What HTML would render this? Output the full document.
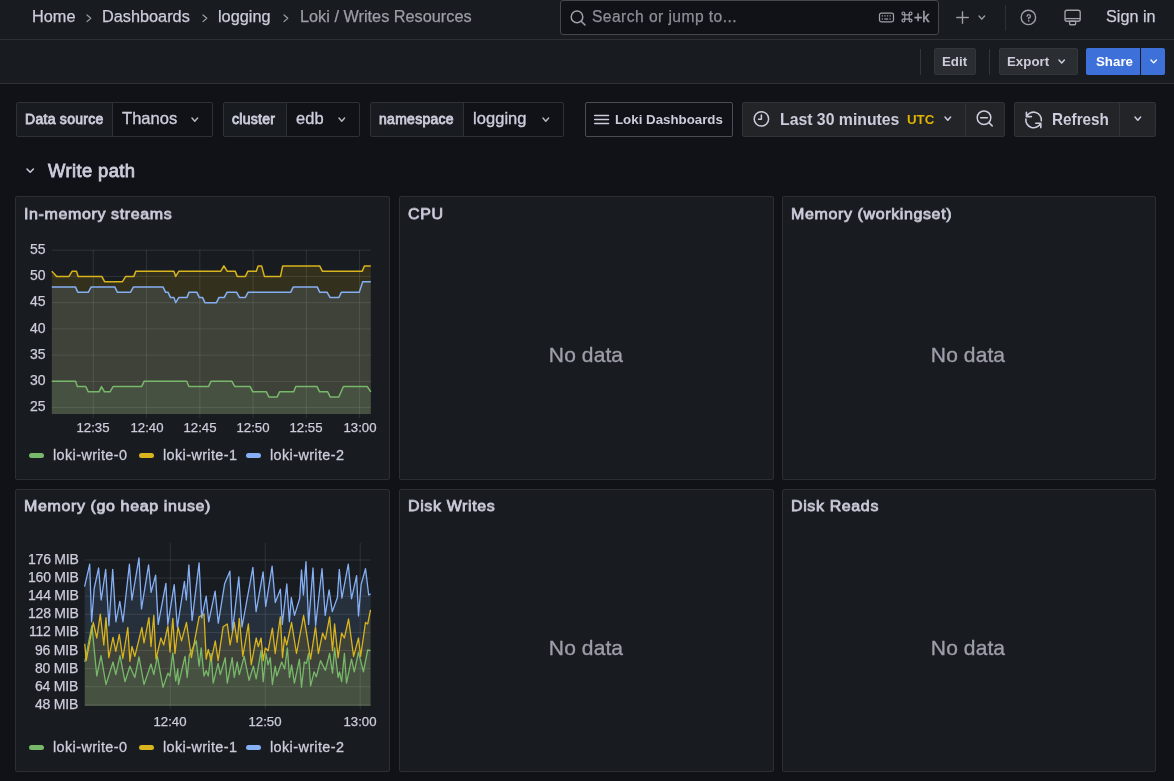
<!DOCTYPE html>
<html><head><meta charset="utf-8"><title>Loki / Writes Resources</title>
<style>
html,body{margin:0;padding:0;width:1174px;height:781px;overflow:hidden;background:#111217;}
body{position:relative;font-family:"Liberation Sans",sans-serif;}
.t{position:absolute;white-space:nowrap;line-height:1;will-change:transform;}
.r{position:absolute;box-sizing:border-box;}
.s{position:absolute;overflow:visible;}
</style></head><body>
<div class="r" style="left:0.00px;top:0.00px;width:1174.00px;height:39.00px;background:#181b1f;"></div><div class="r" style="left:0.00px;top:39.00px;width:1174.00px;height:1.00px;background:#2e3035;"></div><div class="t" style="top:8.10px;font-size:16.3px;font-weight:400;color:#ccccdc;-webkit-text-stroke:0.25px #ccccdc;left:32.40px;">Home</div><svg class="s" style="left:84.55px;top:12.5px;" width="7.8" height="10.6" viewBox="0 0 7.8 10.6"><polyline points="2,2 5.8,5.3 2,8.6" fill="none" stroke="#9d9da8" stroke-width="1.2" stroke-linecap="round" stroke-linejoin="round"/></svg><div class="t" style="top:8.10px;font-size:16.3px;font-weight:400;color:#ccccdc;-webkit-text-stroke:0.25px #ccccdc;left:102.40px;">Dashboards</div><svg class="s" style="left:200.65px;top:12.5px;" width="7.8" height="10.6" viewBox="0 0 7.8 10.6"><polyline points="2,2 5.8,5.3 2,8.6" fill="none" stroke="#9d9da8" stroke-width="1.2" stroke-linecap="round" stroke-linejoin="round"/></svg><div class="t" style="top:8.10px;font-size:16.3px;font-weight:400;color:#ccccdc;-webkit-text-stroke:0.25px #ccccdc;left:218.00px;">logging</div><svg class="s" style="left:282.4px;top:12.5px;" width="7.8" height="10.6" viewBox="0 0 7.8 10.6"><polyline points="2,2 5.8,5.3 2,8.6" fill="none" stroke="#9d9da8" stroke-width="1.2" stroke-linecap="round" stroke-linejoin="round"/></svg><div class="t" style="top:8.10px;font-size:16.3px;font-weight:400;color:#9d9da8;-webkit-text-stroke:0.25px #9d9da8;left:300.00px;">Loki / Writes Resources</div><div class="r" style="left:560.00px;top:0.00px;width:379.00px;height:35.00px;background:#111217;border:1px solid #45474e;border-radius:3px;box-sizing:border-box;"></div><svg class="s" style="left:568.5px;top:8.6px;" width="18" height="18" viewBox="0 0 18 18"><circle cx="8" cy="7.9" r="5.8" fill="none" stroke="#a0a0ab" stroke-width="1.5"/><line x1="12.2" y1="12.2" x2="16" y2="16" stroke="#a0a0ab" stroke-width="1.5" stroke-linecap="round"/></svg><div class="t" style="top:8.99px;font-size:15.6px;font-weight:400;color:#8e8e99;-webkit-text-stroke:0.25px #8e8e99;letter-spacing:0.45px;left:592.20px;">Search or jump to...</div><svg class="s" style="left:877px;top:10px;" width="20" height="15" viewBox="0 0 20 15"><rect x="2.5" y="3.2" width="14" height="8.7" rx="1.8" fill="none" stroke="#a0a0ab" stroke-width="1.25"/><g fill="#a0a0ab"><rect x="4.7" y="5.3" width="1.3" height="1.2"/><rect x="7.3" y="5.3" width="1.3" height="1.2"/><rect x="9.9" y="5.3" width="1.3" height="1.2"/><rect x="12.5" y="5.3" width="1.3" height="1.2"/><rect x="4.7" y="8.4" width="1.3" height="1.2"/><rect x="7.3" y="8.4" width="3.9" height="1.2"/><rect x="12.5" y="8.4" width="1.3" height="1.2"/></g></svg><svg class="s" style="left:900px;top:10px;" width="14" height="14" viewBox="0 0 14 14"><path d="M4.8 4.8 H9.2 V9.2 H4.8 Z M4.8 4.8 V3.4 A1.4 1.4 0 1 0 3.4 4.8 H4.8 M9.2 4.8 V3.4 A1.4 1.4 0 1 1 10.6 4.8 H9.2 M4.8 9.2 V10.6 A1.4 1.4 0 1 1 3.4 9.2 H4.8 M9.2 9.2 V10.6 A1.4 1.4 0 1 0 10.6 9.2 H9.2" fill="none" stroke="#a0a0ab" stroke-width="1.2"/></svg><div class="t" style="top:10.18px;font-size:14.2px;font-weight:400;color:#a0a0ab;-webkit-text-stroke:0.45px #a0a0ab;left:913.60px;">+k</div><svg class="s" style="left:954px;top:9px;" width="17" height="17" viewBox="0 0 17 17"><line x1="8.5" y1="2.3" x2="8.5" y2="14.8" stroke="#a0a0ab" stroke-width="1.4"/><line x1="2.2" y1="8.5" x2="14.8" y2="8.5" stroke="#a0a0ab" stroke-width="1.4"/></svg><svg class="s" style="left:976.7px;top:13.9px;" width="9.6" height="7.2" viewBox="0 0 9.6 7.2"><polyline points="2,2 4.8,5.2 7.6,2" fill="none" stroke="#a0a0ab" stroke-width="1.3" stroke-linecap="round" stroke-linejoin="round"/></svg><div class="r" style="left:1005.00px;top:4.50px;width:1.00px;height:26.00px;background:#2e3036;"></div><svg class="s" style="left:1019px;top:8px;" width="19" height="19" viewBox="0 0 19 19"><circle cx="9.4" cy="9.4" r="7.2" fill="none" stroke="#a0a0ab" stroke-width="1.4"/><path d="M8.1 8.2 A1.65 1.65 0 1 1 9.7 9.9 V10.8" fill="none" stroke="#a0a0ab" stroke-width="1.35" stroke-linecap="round"/><circle cx="9.7" cy="12.9" r="0.8" fill="#a0a0ab"/></svg><svg class="s" style="left:1062px;top:8px;" width="21" height="19" viewBox="0 0 21 19"><rect x="3" y="2.2" width="15.2" height="11" rx="2" fill="none" stroke="#a0a0ab" stroke-width="1.35"/><line x1="3" y1="10.6" x2="18.2" y2="10.6" stroke="#a0a0ab" stroke-width="1.3"/><rect x="7.6" y="13.2" width="6" height="3.5" rx="0.8" fill="none" stroke="#a0a0ab" stroke-width="1.35"/></svg><div class="t" style="top:7.89px;font-size:16.2px;font-weight:400;color:#ccccdc;-webkit-text-stroke:0.25px #ccccdc;left:1106.30px;">Sign in</div><div class="r" style="left:0.00px;top:40.00px;width:1174.00px;height:43.00px;background:#181b1f;"></div><div class="r" style="left:0.00px;top:83.00px;width:1174.00px;height:1.00px;background:#2e3035;"></div><div class="r" style="left:920.00px;top:48.50px;width:1.00px;height:26.50px;background:#34363c;"></div><div class="r" style="left:934.30px;top:48.00px;width:41.50px;height:27.00px;background:#2a2d32;border:1px solid #33363b;border-radius:2px;box-sizing:border-box;"></div><div class="t" style="top:54.74px;font-size:13.3px;font-weight:700;color:#ccccdc;left:941.90px;">Edit</div><div class="r" style="left:989.00px;top:48.50px;width:1.00px;height:26.50px;background:#34363c;"></div><div class="r" style="left:999.20px;top:48.00px;width:78.60px;height:27.00px;background:#2a2d32;border:1px solid #33363b;border-radius:2px;box-sizing:border-box;"></div><div class="t" style="top:54.74px;font-size:13.3px;font-weight:700;color:#ccccdc;left:1007.00px;">Export</div><svg class="s" style="left:1056.85px;top:57.65px;" width="9.4" height="6.9" viewBox="0 0 9.4 6.9"><polyline points="2,2 4.7,4.9 7.4,2" fill="none" stroke="#ccccdc" stroke-width="1.5" stroke-linecap="round" stroke-linejoin="round"/></svg><div class="r" style="left:1086.00px;top:48.00px;width:78.90px;height:27.00px;background:#3d71d9;border-radius:2px;"></div><div class="r" style="left:1140.20px;top:48.00px;width:1.00px;height:27.00px;background:#181b1f;"></div><div class="t" style="top:54.74px;font-size:13.3px;font-weight:700;color:#ffffff;left:1095.60px;">Share</div><svg class="s" style="left:1148.9px;top:57.65px;" width="9.4" height="6.9" viewBox="0 0 9.4 6.9"><polyline points="2,2 4.7,4.9 7.4,2" fill="none" stroke="#ffffff" stroke-width="1.35" stroke-linecap="round" stroke-linejoin="round"/></svg><div class="r" style="left:0.00px;top:84.00px;width:1174.00px;height:697.00px;background:#111217;"></div><div class="r" style="left:16.00px;top:102.00px;width:197.00px;height:35.00px;background:#111217;border:1px solid #2f3137;border-radius:2px;box-sizing:border-box;"></div><div class="r" style="left:17.00px;top:103.00px;width:95.00px;height:33.00px;background:#181b1f;"></div><div class="r" style="left:112.00px;top:103.00px;width:1.00px;height:33.00px;background:#2f3137;"></div><div class="t" style="top:112.15px;font-size:14px;font-weight:400;color:#ccccdc;-webkit-text-stroke:0.8px #ccccdc;letter-spacing:0.28px;left:25.30px;">Data source</div><div class="t" style="top:109.83px;font-size:16.5px;font-weight:400;color:#ccccdc;-webkit-text-stroke:0.35px #ccccdc;letter-spacing:0.05px;left:122.30px;">Thanos</div><svg class="s" style="left:189.8px;top:115.7px;" width="9.6" height="7.2" viewBox="0 0 9.6 7.2"><polyline points="2,2 4.8,5.2 7.6,2" fill="none" stroke="#b4b5bf" stroke-width="1.5" stroke-linecap="round" stroke-linejoin="round"/></svg><div class="r" style="left:223.00px;top:102.00px;width:136.50px;height:35.00px;background:#111217;border:1px solid #2f3137;border-radius:2px;box-sizing:border-box;"></div><div class="r" style="left:224.00px;top:103.00px;width:62.00px;height:33.00px;background:#181b1f;"></div><div class="r" style="left:286.00px;top:103.00px;width:1.00px;height:33.00px;background:#2f3137;"></div><div class="t" style="top:112.15px;font-size:14px;font-weight:400;color:#ccccdc;-webkit-text-stroke:0.8px #ccccdc;letter-spacing:0.28px;left:232.20px;">cluster</div><div class="t" style="top:109.83px;font-size:16.5px;font-weight:400;color:#ccccdc;-webkit-text-stroke:0.35px #ccccdc;letter-spacing:0.05px;left:295.60px;">edb</div><svg class="s" style="left:336.7px;top:115.7px;" width="9.6" height="7.2" viewBox="0 0 9.6 7.2"><polyline points="2,2 4.8,5.2 7.6,2" fill="none" stroke="#b4b5bf" stroke-width="1.5" stroke-linecap="round" stroke-linejoin="round"/></svg><div class="r" style="left:370.20px;top:102.00px;width:193.50px;height:35.00px;background:#111217;border:1px solid #2f3137;border-radius:2px;box-sizing:border-box;"></div><div class="r" style="left:371.20px;top:103.00px;width:91.80px;height:33.00px;background:#181b1f;"></div><div class="r" style="left:463.00px;top:103.00px;width:1.00px;height:33.00px;background:#2f3137;"></div><div class="t" style="top:112.15px;font-size:14px;font-weight:400;color:#ccccdc;-webkit-text-stroke:0.8px #ccccdc;letter-spacing:0.28px;left:379.10px;">namespace</div><div class="t" style="top:109.83px;font-size:16.5px;font-weight:400;color:#ccccdc;-webkit-text-stroke:0.35px #ccccdc;letter-spacing:0.05px;left:473.20px;">logging</div><svg class="s" style="left:541.1px;top:115.7px;" width="9.6" height="7.2" viewBox="0 0 9.6 7.2"><polyline points="2,2 4.8,5.2 7.6,2" fill="none" stroke="#b4b5bf" stroke-width="1.5" stroke-linecap="round" stroke-linejoin="round"/></svg><div class="r" style="left:584.50px;top:102.40px;width:148.20px;height:34.30px;background:#111217;border:1px solid #4a4d55;border-radius:2px;box-sizing:border-box;"></div><svg class="s" style="left:592px;top:112px;" width="19" height="14" viewBox="0 0 19 14"><g stroke="#ccccdc" stroke-width="1.5" stroke-linecap="round"><line x1="2.7" y1="3.5" x2="16.5" y2="3.5"/><line x1="2.7" y1="7.5" x2="16.5" y2="7.5"/><line x1="2.7" y1="11.5" x2="16.5" y2="11.5"/></g></svg><div class="t" style="top:112.74px;font-size:13.3px;font-weight:700;color:#ccccdc;left:615.00px;">Loki Dashboards</div><div class="r" style="left:742.40px;top:102.00px;width:262.30px;height:35.00px;background:#222428;border:1px solid #303238;border-radius:2px;box-sizing:border-box;"></div><div class="r" style="left:965.20px;top:103.00px;width:1.00px;height:33.00px;background:#303238;"></div><svg class="s" style="left:751px;top:108.5px;" width="20" height="20" viewBox="0 0 20 20"><circle cx="10.4" cy="9.9" r="7.2" fill="none" stroke="#ccccdc" stroke-width="1.5"/><polyline points="10.4,5.9 10.4,10.3 7.5,10.3" fill="none" stroke="#ccccdc" stroke-width="1.5" stroke-linecap="round" stroke-linejoin="round"/></svg><div class="t" style="top:111.83px;font-size:15.8px;font-weight:700;color:#ccccdc;left:779.60px;transform-origin:0 13.37px;transform:scaleY(1.05);">Last 30 minutes</div><div class="t" style="top:112.74px;font-size:13.3px;font-weight:700;color:#e0b400;left:906.80px;">UTC</div><svg class="s" style="left:942.9px;top:115.0px;" width="9.6" height="7.2" viewBox="0 0 9.6 7.2"><polyline points="2,2 4.8,5.2 7.6,2" fill="none" stroke="#ccccdc" stroke-width="1.5" stroke-linecap="round" stroke-linejoin="round"/></svg><svg class="s" style="left:974px;top:108px;" width="22" height="22" viewBox="0 0 22 22"><circle cx="10" cy="9.7" r="6.8" fill="none" stroke="#ccccdc" stroke-width="1.5"/><line x1="6.6" y1="9.7" x2="13.4" y2="9.7" stroke="#ccccdc" stroke-width="1.5" stroke-linecap="round"/><line x1="14.9" y1="14.6" x2="18.2" y2="17.9" stroke="#ccccdc" stroke-width="1.5" stroke-linecap="round"/></svg><div class="r" style="left:1014.30px;top:102.00px;width:141.50px;height:35.00px;background:#222428;border:1px solid #303238;border-radius:2px;box-sizing:border-box;"></div><div class="r" style="left:1119.00px;top:103.00px;width:1.00px;height:33.00px;background:#303238;"></div><svg class="s" style="left:1022.8px;top:108.8px;" width="22" height="22" viewBox="0 0 22 22"><path d="M3.4 3.3 V7.6 H8.4 M3.63 7.55 A7.75 7.75 0 0 1 18.33 11.8 M17.8 18.6 V14.3 H12.8 M17.57 14.35 A7.75 7.75 0 0 1 2.87 10.1" fill="none" stroke="#ccccdc" stroke-width="1.6" stroke-linecap="round" stroke-linejoin="round"/></svg><div class="t" style="top:112.05px;font-size:15.3px;font-weight:700;color:#ccccdc;left:1051.70px;transform-origin:0 12.95px;transform:scaleY(1.09);">Refresh</div><svg class="s" style="left:1133.1px;top:115.0px;" width="9.6" height="7.2" viewBox="0 0 9.6 7.2"><polyline points="2,2 4.8,5.2 7.6,2" fill="none" stroke="#ccccdc" stroke-width="1.5" stroke-linecap="round" stroke-linejoin="round"/></svg><svg class="s" style="left:24.8px;top:166.85px;" width="10.4" height="7.3" viewBox="0 0 10.4 7.3"><polyline points="2,2 5.2,5.3 8.4,2" fill="none" stroke="#ccccdc" stroke-width="1.5" stroke-linecap="round" stroke-linejoin="round"/></svg><div class="t" style="top:162.02px;font-size:18.4px;font-weight:400;color:#ccccdc;-webkit-text-stroke:0.8px #ccccdc;letter-spacing:0.4px;left:48.00px;">Write path</div><div class="r" style="left:15.00px;top:196.00px;width:375.00px;height:284.00px;background:#181b1f;border:1px solid #2c2e34;border-radius:2px;box-sizing:border-box;"></div><div class="t" style="top:206.46px;font-size:16px;font-weight:400;color:#ccccdc;-webkit-text-stroke:0.8px #ccccdc;letter-spacing:0.62px;left:24.40px;transform-origin:0 13.54px;transform:scaleY(0.9);">In-memory streams</div><div class="r" style="left:399.00px;top:196.00px;width:375.00px;height:284.00px;background:#181b1f;border:1px solid #2c2e34;border-radius:2px;box-sizing:border-box;"></div><div class="t" style="top:206.46px;font-size:16px;font-weight:400;color:#ccccdc;-webkit-text-stroke:0.8px #ccccdc;letter-spacing:0.62px;left:408.40px;transform-origin:0 13.54px;transform:scaleY(0.9);">CPU</div><div class="t" style="top:344.22px;font-size:21px;font-weight:400;color:#9d9ea9;-webkit-text-stroke:0.35px #9d9ea9;letter-spacing:0.1px;left:585.90px;transform:translateX(-50%) ;">No data</div><div class="r" style="left:782.00px;top:196.00px;width:374.00px;height:284.00px;background:#181b1f;border:1px solid #2c2e34;border-radius:2px;box-sizing:border-box;"></div><div class="t" style="top:206.46px;font-size:16px;font-weight:400;color:#ccccdc;-webkit-text-stroke:0.8px #ccccdc;letter-spacing:0.62px;left:791.40px;transform-origin:0 13.54px;transform:scaleY(0.9);">Memory (workingset)</div><div class="t" style="top:344.22px;font-size:21px;font-weight:400;color:#9d9ea9;-webkit-text-stroke:0.35px #9d9ea9;letter-spacing:0.1px;left:968.40px;transform:translateX(-50%) ;">No data</div><div class="r" style="left:15.00px;top:489.00px;width:375.00px;height:283.00px;background:#181b1f;border:1px solid #2c2e34;border-radius:2px;box-sizing:border-box;"></div><div class="t" style="top:498.46px;font-size:16px;font-weight:400;color:#ccccdc;-webkit-text-stroke:0.8px #ccccdc;letter-spacing:0.62px;left:24.40px;transform-origin:0 13.54px;transform:scaleY(0.9);">Memory (go heap inuse)</div><div class="r" style="left:399.00px;top:489.00px;width:375.00px;height:283.00px;background:#181b1f;border:1px solid #2c2e34;border-radius:2px;box-sizing:border-box;"></div><div class="t" style="top:498.46px;font-size:16px;font-weight:400;color:#ccccdc;-webkit-text-stroke:0.8px #ccccdc;letter-spacing:0.62px;left:408.40px;transform-origin:0 13.54px;transform:scaleY(0.9);">Disk Writes</div><div class="t" style="top:636.72px;font-size:21px;font-weight:400;color:#9d9ea9;-webkit-text-stroke:0.35px #9d9ea9;letter-spacing:0.1px;left:585.90px;transform:translateX(-50%) ;">No data</div><div class="r" style="left:782.00px;top:489.00px;width:374.00px;height:283.00px;background:#181b1f;border:1px solid #2c2e34;border-radius:2px;box-sizing:border-box;"></div><div class="t" style="top:498.46px;font-size:16px;font-weight:400;color:#ccccdc;-webkit-text-stroke:0.8px #ccccdc;letter-spacing:0.62px;left:791.40px;transform-origin:0 13.54px;transform:scaleY(0.9);">Disk Reads</div><div class="t" style="top:636.72px;font-size:21px;font-weight:400;color:#9d9ea9;-webkit-text-stroke:0.35px #9d9ea9;letter-spacing:0.1px;left:968.40px;transform:translateX(-50%) ;">No data</div><svg class="s" style="left:0;top:0" width="1174" height="781" viewBox="0 0 1174 781"><line x1="51.8" y1="250.20" x2="370.8" y2="250.20" stroke="rgba(240,250,255,0.11)" stroke-width="1"/><line x1="51.8" y1="276.43" x2="370.8" y2="276.43" stroke="rgba(240,250,255,0.11)" stroke-width="1"/><line x1="51.8" y1="302.67" x2="370.8" y2="302.67" stroke="rgba(240,250,255,0.11)" stroke-width="1"/><line x1="51.8" y1="328.90" x2="370.8" y2="328.90" stroke="rgba(240,250,255,0.11)" stroke-width="1"/><line x1="51.8" y1="355.13" x2="370.8" y2="355.13" stroke="rgba(240,250,255,0.11)" stroke-width="1"/><line x1="51.8" y1="381.37" x2="370.8" y2="381.37" stroke="rgba(240,250,255,0.11)" stroke-width="1"/><line x1="51.8" y1="407.60" x2="370.8" y2="407.60" stroke="rgba(240,250,255,0.11)" stroke-width="1"/><line x1="93.30" y1="250" x2="93.30" y2="418" stroke="rgba(240,250,255,0.11)" stroke-width="1"/><line x1="146.56" y1="250" x2="146.56" y2="418" stroke="rgba(240,250,255,0.11)" stroke-width="1"/><line x1="199.82" y1="250" x2="199.82" y2="418" stroke="rgba(240,250,255,0.11)" stroke-width="1"/><line x1="253.08" y1="250" x2="253.08" y2="418" stroke="rgba(240,250,255,0.11)" stroke-width="1"/><line x1="306.34" y1="250" x2="306.34" y2="418" stroke="rgba(240,250,255,0.11)" stroke-width="1"/><line x1="359.60" y1="250" x2="359.60" y2="418" stroke="rgba(240,250,255,0.11)" stroke-width="1"/><polygon points="51.80,414 51.80,381.32 75.60,381.32 77.40,386.57 85.80,386.57 88.30,391.81 99.00,391.81 101.50,386.57 104.50,391.81 110.00,391.81 113.00,386.57 141.60,386.57 144.10,381.32 186.70,381.32 188.90,386.57 208.50,386.57 211.00,381.32 231.90,381.32 234.90,386.57 250.20,386.57 252.80,391.81 266.40,391.81 269.00,397.06 277.00,397.06 279.60,391.81 293.70,391.81 295.80,386.57 317.10,386.57 319.60,391.81 327.70,391.81 330.30,397.06 338.80,397.06 343.40,386.57 367.30,386.57 370.80,391.81 370.80,414" fill="#73bf69" fill-opacity="0.13"/><polygon points="51.80,414 51.80,271.15 56.70,276.40 69.00,276.40 72.20,271.15 76.40,271.15 78.20,276.40 101.80,276.40 104.60,281.65 122.50,281.65 125.70,276.40 133.80,276.40 135.90,271.15 173.90,271.15 175.70,276.40 178.90,271.15 220.80,271.15 223.90,265.91 227.10,271.15 235.20,271.15 237.30,276.40 245.40,276.40 247.90,271.15 256.30,271.15 258.10,265.91 261.60,265.91 264.40,276.40 280.50,276.40 282.70,265.91 319.70,265.91 322.30,271.15 362.30,271.15 364.40,265.91 370.80,265.91 370.80,414" fill="#f2cc0c" fill-opacity="0.13"/><polygon points="51.80,414 51.80,286.89 75.40,286.89 77.80,292.14 88.40,292.14 91.20,286.89 114.80,286.89 117.30,292.14 130.60,292.14 133.50,286.89 163.00,286.89 165.50,292.14 168.00,292.14 170.40,297.38 173.90,297.38 175.70,302.63 178.90,297.38 187.00,297.38 189.10,292.14 196.80,292.14 199.30,297.38 202.50,297.38 204.90,302.63 216.50,302.63 219.00,297.38 224.30,297.38 227.10,292.14 236.60,292.14 239.40,297.38 245.40,297.38 248.20,292.14 290.80,292.14 293.30,286.89 317.20,286.89 319.70,292.14 327.00,292.14 330.00,297.38 338.90,297.38 341.40,292.14 359.30,292.14 362.70,281.65 370.80,281.65 370.80,414" fill="#8ab8ff" fill-opacity="0.13"/><polyline points="51.80,381.32 75.60,381.32 77.40,386.57 85.80,386.57 88.30,391.81 99.00,391.81 101.50,386.57 104.50,391.81 110.00,391.81 113.00,386.57 141.60,386.57 144.10,381.32 186.70,381.32 188.90,386.57 208.50,386.57 211.00,381.32 231.90,381.32 234.90,386.57 250.20,386.57 252.80,391.81 266.40,391.81 269.00,397.06 277.00,397.06 279.60,391.81 293.70,391.81 295.80,386.57 317.10,386.57 319.60,391.81 327.70,391.81 330.30,397.06 338.80,397.06 343.40,386.57 367.30,386.57 370.80,391.81" fill="none" stroke="#78b86a" stroke-width="1.5" stroke-linejoin="round"/><polyline points="51.80,271.15 56.70,276.40 69.00,276.40 72.20,271.15 76.40,271.15 78.20,276.40 101.80,276.40 104.60,281.65 122.50,281.65 125.70,276.40 133.80,276.40 135.90,271.15 173.90,271.15 175.70,276.40 178.90,271.15 220.80,271.15 223.90,265.91 227.10,271.15 235.20,271.15 237.30,276.40 245.40,276.40 247.90,271.15 256.30,271.15 258.10,265.91 261.60,265.91 264.40,276.40 280.50,276.40 282.70,265.91 319.70,265.91 322.30,271.15 362.30,271.15 364.40,265.91 370.80,265.91" fill="none" stroke="#d8b41e" stroke-width="1.5" stroke-linejoin="round"/><polyline points="51.80,286.89 75.40,286.89 77.80,292.14 88.40,292.14 91.20,286.89 114.80,286.89 117.30,292.14 130.60,292.14 133.50,286.89 163.00,286.89 165.50,292.14 168.00,292.14 170.40,297.38 173.90,297.38 175.70,302.63 178.90,297.38 187.00,297.38 189.10,292.14 196.80,292.14 199.30,297.38 202.50,297.38 204.90,302.63 216.50,302.63 219.00,297.38 224.30,297.38 227.10,292.14 236.60,292.14 239.40,297.38 245.40,297.38 248.20,292.14 290.80,292.14 293.30,286.89 317.20,286.89 319.70,292.14 327.00,292.14 330.00,297.38 338.90,297.38 341.40,292.14 359.30,292.14 362.70,281.65 370.80,281.65" fill="none" stroke="#86b0f5" stroke-width="1.5" stroke-linejoin="round"/></svg><div class="t" style="top:241.85px;font-size:14px;font-weight:400;color:#ccccdc;-webkit-text-stroke:0.25px #ccccdc;right:1128.40px;">55</div><div class="t" style="top:268.08px;font-size:14px;font-weight:400;color:#ccccdc;-webkit-text-stroke:0.25px #ccccdc;right:1128.40px;">50</div><div class="t" style="top:294.31px;font-size:14px;font-weight:400;color:#ccccdc;-webkit-text-stroke:0.25px #ccccdc;right:1128.40px;">45</div><div class="t" style="top:320.55px;font-size:14px;font-weight:400;color:#ccccdc;-webkit-text-stroke:0.25px #ccccdc;right:1128.40px;">40</div><div class="t" style="top:346.78px;font-size:14px;font-weight:400;color:#ccccdc;-webkit-text-stroke:0.25px #ccccdc;right:1128.40px;">35</div><div class="t" style="top:373.01px;font-size:14px;font-weight:400;color:#ccccdc;-webkit-text-stroke:0.25px #ccccdc;right:1128.40px;">30</div><div class="t" style="top:399.25px;font-size:14px;font-weight:400;color:#ccccdc;-webkit-text-stroke:0.25px #ccccdc;right:1128.40px;">25</div><div class="t" style="top:421.03px;font-size:13.2px;font-weight:400;color:#ccccdc;-webkit-text-stroke:0.25px #ccccdc;left:93.30px;transform:translateX(-50%) ;">12:35</div><div class="t" style="top:421.03px;font-size:13.2px;font-weight:400;color:#ccccdc;-webkit-text-stroke:0.25px #ccccdc;left:146.56px;transform:translateX(-50%) ;">12:40</div><div class="t" style="top:421.03px;font-size:13.2px;font-weight:400;color:#ccccdc;-webkit-text-stroke:0.25px #ccccdc;left:199.82px;transform:translateX(-50%) ;">12:45</div><div class="t" style="top:421.03px;font-size:13.2px;font-weight:400;color:#ccccdc;-webkit-text-stroke:0.25px #ccccdc;left:253.08px;transform:translateX(-50%) ;">12:50</div><div class="t" style="top:421.03px;font-size:13.2px;font-weight:400;color:#ccccdc;-webkit-text-stroke:0.25px #ccccdc;left:306.34px;transform:translateX(-50%) ;">12:55</div><div class="t" style="top:421.03px;font-size:13.2px;font-weight:400;color:#ccccdc;-webkit-text-stroke:0.25px #ccccdc;left:359.60px;transform:translateX(-50%) ;">13:00</div><div class="r" style="left:28.90px;top:452.80px;width:15.00px;height:5.20px;background:#78b86a;border-radius:2.6px;"></div><div class="t" style="top:447.51px;font-size:14.4px;font-weight:400;color:#ccccdc;-webkit-text-stroke:0.3px #ccccdc;letter-spacing:0.4px;left:53.20px;">loki-write-0</div><div class="r" style="left:139.10px;top:452.80px;width:15.00px;height:5.20px;background:#d8b41e;border-radius:2.6px;"></div><div class="t" style="top:447.51px;font-size:14.4px;font-weight:400;color:#ccccdc;-webkit-text-stroke:0.3px #ccccdc;letter-spacing:0.4px;left:163.20px;">loki-write-1</div><div class="r" style="left:246.00px;top:452.80px;width:15.00px;height:5.20px;background:#86b0f5;border-radius:2.6px;"></div><div class="t" style="top:447.51px;font-size:14.4px;font-weight:400;color:#ccccdc;-webkit-text-stroke:0.3px #ccccdc;letter-spacing:0.4px;left:269.80px;">loki-write-2</div><svg class="s" style="left:0;top:0" width="1174" height="781" viewBox="0 0 1174 781"><line x1="84.8" y1="560.00" x2="370.6" y2="560.00" stroke="rgba(240,250,255,0.11)" stroke-width="1"/><line x1="84.8" y1="578.10" x2="370.6" y2="578.10" stroke="rgba(240,250,255,0.11)" stroke-width="1"/><line x1="84.8" y1="596.20" x2="370.6" y2="596.20" stroke="rgba(240,250,255,0.11)" stroke-width="1"/><line x1="84.8" y1="614.30" x2="370.6" y2="614.30" stroke="rgba(240,250,255,0.11)" stroke-width="1"/><line x1="84.8" y1="632.40" x2="370.6" y2="632.40" stroke="rgba(240,250,255,0.11)" stroke-width="1"/><line x1="84.8" y1="650.50" x2="370.6" y2="650.50" stroke="rgba(240,250,255,0.11)" stroke-width="1"/><line x1="84.8" y1="668.60" x2="370.6" y2="668.60" stroke="rgba(240,250,255,0.11)" stroke-width="1"/><line x1="84.8" y1="686.70" x2="370.6" y2="686.70" stroke="rgba(240,250,255,0.11)" stroke-width="1"/><line x1="84.8" y1="704.80" x2="370.6" y2="704.80" stroke="rgba(240,250,255,0.11)" stroke-width="1"/><line x1="170.30" y1="543" x2="170.30" y2="709" stroke="rgba(240,250,255,0.11)" stroke-width="1"/><line x1="265.30" y1="543" x2="265.30" y2="709" stroke="rgba(240,250,255,0.11)" stroke-width="1"/><line x1="360.20" y1="543" x2="360.20" y2="709" stroke="rgba(240,250,255,0.11)" stroke-width="1"/><polygon points="84.80,706 84.80,662.00 91.90,625.40 96.80,676.00 101.00,655.60 106.00,684.50 113.00,662.00 115.80,674.60 120.00,655.60 125.00,681.70 129.90,666.20 134.80,677.50 139.00,657.00 144.00,684.50 151.00,664.00 153.80,674.60 157.40,656.30 163.00,687.30 167.90,673.20 170.00,676.00 172.80,652.80 175.70,681.00 177.80,669.00 178.50,684.50 185.00,656.30 187.20,677.50 189.30,655.00 196.30,640.80 199.10,666.20 201.20,647.90 204.00,676.00 206.20,670.40 208.30,676.00 211.10,653.50 213.20,683.10 218.10,663.40 220.30,674.60 225.20,657.70 227.30,683.10 232.20,657.70 234.30,677.50 237.20,662.00 239.30,674.60 244.20,656.30 249.10,680.30 253.40,666.20 256.20,678.90 261.10,650.70 263.20,681.70 266.00,653.50 268.10,664.80 270.30,657.70 272.40,684.50 275.20,666.20 276.80,676.00 281.70,662.00 284.60,669.00 287.40,647.90 289.50,677.50 291.60,664.80 294.40,683.10 299.40,659.20 301.50,687.30 304.30,662.00 306.40,663.40 308.50,653.50 310.60,685.90 314.10,671.80 316.30,676.80 320.50,660.60 325.40,670.40 329.60,653.50 332.50,673.20 334.60,647.90 338.10,677.50 339.50,671.80 341.60,681.70 344.40,653.50 346.50,683.10 351.50,659.20 354.30,671.80 358.50,652.10 363.40,671.80 367.70,650.00 370.50,650.70 370.50,706" fill="#73bf69" fill-opacity="0.13"/><polygon points="84.80,706 84.80,643.70 86.20,660.60 93.30,622.50 96.80,638.00 100.30,614.10 103.80,645.00 106.00,617.60 108.80,657.70 113.00,637.30 115.80,651.40 119.30,634.50 122.80,658.50 127.80,627.50 129.90,661.30 132.00,646.50 134.80,656.30 141.90,627.50 144.00,643.00 148.90,617.60 151.00,646.50 153.80,615.50 156.00,659.20 160.90,638.00 163.70,645.00 167.90,626.00 170.00,652.00 172.80,618.30 175.00,653.50 178.00,626.80 181.50,640.80 186.50,622.50 191.40,657.70 199.10,616.90 204.00,614.00 206.20,659.20 208.30,649.30 211.10,660.60 215.30,640.80 218.10,660.60 223.10,626.80 227.30,624.00 230.10,645.00 234.30,622.50 237.20,642.30 239.30,618.30 242.80,656.30 248.40,624.00 251.20,664.80 256.20,638.00 258.30,646.50 261.10,638.00 263.20,660.60 265.30,647.90 268.10,650.70 272.40,628.20 275.20,653.50 280.30,616.90 282.50,657.70 284.60,636.60 286.70,645.00 291.60,622.50 296.50,653.50 303.60,615.50 306.40,632.40 310.60,659.20 315.50,626.80 318.40,653.50 322.60,633.10 325.40,639.40 329.60,616.90 332.50,650.70 334.60,624.00 338.10,657.70 341.60,633.10 344.40,638.00 348.60,619.00 353.60,656.30 358.50,638.00 360.60,656.30 365.50,622.50 367.70,624.00 370.50,609.90 370.50,706" fill="#f2cc0c" fill-opacity="0.13"/><polygon points="84.60,706 84.60,586.60 89.70,564.20 91.60,621.80 94.20,588.50 98.60,568.00 101.20,600.00 105.70,569.30 108.90,625.70 112.70,569.30 115.90,621.80 119.80,601.30 123.00,621.80 129.40,564.20 131.90,600.00 139.00,557.80 141.50,609.00 148.60,564.80 151.10,592.40 155.60,575.10 158.20,624.40 165.90,583.40 167.80,624.40 174.20,584.70 177.40,627.00 184.40,581.50 186.30,600.00 188.90,564.80 192.10,620.50 199.10,562.90 201.70,618.00 206.20,596.20 208.70,621.80 215.10,591.10 218.30,623.10 224.70,583.40 229.90,571.20 232.40,630.80 238.80,577.00 242.00,627.00 252.90,567.40 256.10,611.60 263.10,571.90 265.70,606.50 272.10,566.10 275.30,602.60 280.40,589.20 282.30,624.40 286.80,584.00 289.40,621.80 291.30,597.50 294.50,615.40 299.60,598.80 301.50,570.00 303.40,595.00 306.00,561.60 308.60,624.40 313.00,568.00 315.60,625.70 322.00,568.70 325.20,615.40 329.10,589.80 332.30,611.60 337.40,597.50 339.30,569.30 341.90,598.10 348.30,564.20 351.50,598.80 356.60,575.70 358.50,616.00 361.10,584.70 365.50,568.70 368.70,595.00 370.70,593.70 370.70,706" fill="#8ab8ff" fill-opacity="0.13"/><polyline points="84.80,662.00 91.90,625.40 96.80,676.00 101.00,655.60 106.00,684.50 113.00,662.00 115.80,674.60 120.00,655.60 125.00,681.70 129.90,666.20 134.80,677.50 139.00,657.00 144.00,684.50 151.00,664.00 153.80,674.60 157.40,656.30 163.00,687.30 167.90,673.20 170.00,676.00 172.80,652.80 175.70,681.00 177.80,669.00 178.50,684.50 185.00,656.30 187.20,677.50 189.30,655.00 196.30,640.80 199.10,666.20 201.20,647.90 204.00,676.00 206.20,670.40 208.30,676.00 211.10,653.50 213.20,683.10 218.10,663.40 220.30,674.60 225.20,657.70 227.30,683.10 232.20,657.70 234.30,677.50 237.20,662.00 239.30,674.60 244.20,656.30 249.10,680.30 253.40,666.20 256.20,678.90 261.10,650.70 263.20,681.70 266.00,653.50 268.10,664.80 270.30,657.70 272.40,684.50 275.20,666.20 276.80,676.00 281.70,662.00 284.60,669.00 287.40,647.90 289.50,677.50 291.60,664.80 294.40,683.10 299.40,659.20 301.50,687.30 304.30,662.00 306.40,663.40 308.50,653.50 310.60,685.90 314.10,671.80 316.30,676.80 320.50,660.60 325.40,670.40 329.60,653.50 332.50,673.20 334.60,647.90 338.10,677.50 339.50,671.80 341.60,681.70 344.40,653.50 346.50,683.10 351.50,659.20 354.30,671.80 358.50,652.10 363.40,671.80 367.70,650.00 370.50,650.70" fill="none" stroke="#78b86a" stroke-width="1.3" stroke-linejoin="round"/><polyline points="84.80,643.70 86.20,660.60 93.30,622.50 96.80,638.00 100.30,614.10 103.80,645.00 106.00,617.60 108.80,657.70 113.00,637.30 115.80,651.40 119.30,634.50 122.80,658.50 127.80,627.50 129.90,661.30 132.00,646.50 134.80,656.30 141.90,627.50 144.00,643.00 148.90,617.60 151.00,646.50 153.80,615.50 156.00,659.20 160.90,638.00 163.70,645.00 167.90,626.00 170.00,652.00 172.80,618.30 175.00,653.50 178.00,626.80 181.50,640.80 186.50,622.50 191.40,657.70 199.10,616.90 204.00,614.00 206.20,659.20 208.30,649.30 211.10,660.60 215.30,640.80 218.10,660.60 223.10,626.80 227.30,624.00 230.10,645.00 234.30,622.50 237.20,642.30 239.30,618.30 242.80,656.30 248.40,624.00 251.20,664.80 256.20,638.00 258.30,646.50 261.10,638.00 263.20,660.60 265.30,647.90 268.10,650.70 272.40,628.20 275.20,653.50 280.30,616.90 282.50,657.70 284.60,636.60 286.70,645.00 291.60,622.50 296.50,653.50 303.60,615.50 306.40,632.40 310.60,659.20 315.50,626.80 318.40,653.50 322.60,633.10 325.40,639.40 329.60,616.90 332.50,650.70 334.60,624.00 338.10,657.70 341.60,633.10 344.40,638.00 348.60,619.00 353.60,656.30 358.50,638.00 360.60,656.30 365.50,622.50 367.70,624.00 370.50,609.90" fill="none" stroke="#d8b41e" stroke-width="1.3" stroke-linejoin="round"/><polyline points="84.60,586.60 89.70,564.20 91.60,621.80 94.20,588.50 98.60,568.00 101.20,600.00 105.70,569.30 108.90,625.70 112.70,569.30 115.90,621.80 119.80,601.30 123.00,621.80 129.40,564.20 131.90,600.00 139.00,557.80 141.50,609.00 148.60,564.80 151.10,592.40 155.60,575.10 158.20,624.40 165.90,583.40 167.80,624.40 174.20,584.70 177.40,627.00 184.40,581.50 186.30,600.00 188.90,564.80 192.10,620.50 199.10,562.90 201.70,618.00 206.20,596.20 208.70,621.80 215.10,591.10 218.30,623.10 224.70,583.40 229.90,571.20 232.40,630.80 238.80,577.00 242.00,627.00 252.90,567.40 256.10,611.60 263.10,571.90 265.70,606.50 272.10,566.10 275.30,602.60 280.40,589.20 282.30,624.40 286.80,584.00 289.40,621.80 291.30,597.50 294.50,615.40 299.60,598.80 301.50,570.00 303.40,595.00 306.00,561.60 308.60,624.40 313.00,568.00 315.60,625.70 322.00,568.70 325.20,615.40 329.10,589.80 332.30,611.60 337.40,597.50 339.30,569.30 341.90,598.10 348.30,564.20 351.50,598.80 356.60,575.70 358.50,616.00 361.10,584.70 365.50,568.70 368.70,595.00 370.70,593.70" fill="none" stroke="#86b0f5" stroke-width="1.3" stroke-linejoin="round"/></svg><div class="t" style="top:552.05px;font-size:14px;font-weight:400;color:#ccccdc;-webkit-text-stroke:0.25px #ccccdc;letter-spacing:-0.22px;right:1095.60px;">176 MIB</div><div class="t" style="top:570.15px;font-size:14px;font-weight:400;color:#ccccdc;-webkit-text-stroke:0.25px #ccccdc;letter-spacing:-0.22px;right:1095.60px;">160 MIB</div><div class="t" style="top:588.25px;font-size:14px;font-weight:400;color:#ccccdc;-webkit-text-stroke:0.25px #ccccdc;letter-spacing:-0.22px;right:1095.60px;">144 MIB</div><div class="t" style="top:606.35px;font-size:14px;font-weight:400;color:#ccccdc;-webkit-text-stroke:0.25px #ccccdc;letter-spacing:-0.22px;right:1095.60px;">128 MIB</div><div class="t" style="top:624.45px;font-size:14px;font-weight:400;color:#ccccdc;-webkit-text-stroke:0.25px #ccccdc;letter-spacing:-0.22px;right:1095.60px;">112 MIB</div><div class="t" style="top:642.55px;font-size:14px;font-weight:400;color:#ccccdc;-webkit-text-stroke:0.25px #ccccdc;letter-spacing:-0.22px;right:1095.60px;">96 MIB</div><div class="t" style="top:660.65px;font-size:14px;font-weight:400;color:#ccccdc;-webkit-text-stroke:0.25px #ccccdc;letter-spacing:-0.22px;right:1095.60px;">80 MIB</div><div class="t" style="top:678.75px;font-size:14px;font-weight:400;color:#ccccdc;-webkit-text-stroke:0.25px #ccccdc;letter-spacing:-0.22px;right:1095.60px;">64 MIB</div><div class="t" style="top:696.85px;font-size:14px;font-weight:400;color:#ccccdc;-webkit-text-stroke:0.25px #ccccdc;letter-spacing:-0.22px;right:1095.60px;">48 MIB</div><div class="t" style="top:714.63px;font-size:13.2px;font-weight:400;color:#ccccdc;-webkit-text-stroke:0.25px #ccccdc;left:170.30px;transform:translateX(-50%) ;">12:40</div><div class="t" style="top:714.63px;font-size:13.2px;font-weight:400;color:#ccccdc;-webkit-text-stroke:0.25px #ccccdc;left:265.30px;transform:translateX(-50%) ;">12:50</div><div class="t" style="top:714.63px;font-size:13.2px;font-weight:400;color:#ccccdc;-webkit-text-stroke:0.25px #ccccdc;left:360.20px;transform:translateX(-50%) ;">13:00</div><div class="r" style="left:28.90px;top:744.80px;width:15.00px;height:5.20px;background:#78b86a;border-radius:2.6px;"></div><div class="t" style="top:739.51px;font-size:14.4px;font-weight:400;color:#ccccdc;-webkit-text-stroke:0.3px #ccccdc;letter-spacing:0.4px;left:53.20px;">loki-write-0</div><div class="r" style="left:139.10px;top:744.80px;width:15.00px;height:5.20px;background:#d8b41e;border-radius:2.6px;"></div><div class="t" style="top:739.51px;font-size:14.4px;font-weight:400;color:#ccccdc;-webkit-text-stroke:0.3px #ccccdc;letter-spacing:0.4px;left:163.20px;">loki-write-1</div><div class="r" style="left:246.00px;top:744.80px;width:15.00px;height:5.20px;background:#86b0f5;border-radius:2.6px;"></div><div class="t" style="top:739.51px;font-size:14.4px;font-weight:400;color:#ccccdc;-webkit-text-stroke:0.3px #ccccdc;letter-spacing:0.4px;left:269.80px;">loki-write-2</div>
</body></html>
